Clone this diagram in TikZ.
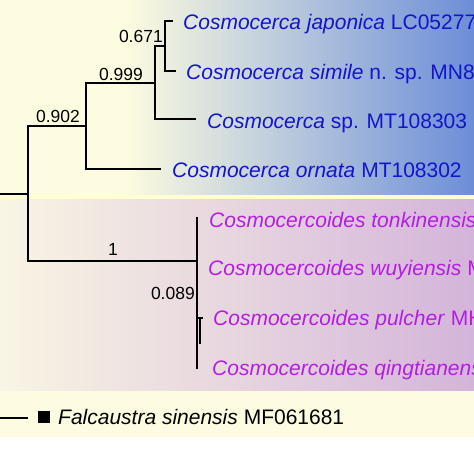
\documentclass[tikz,border=0pt]{standalone}
\usepackage{fontspec}
\setmainfont{Liberation Sans}
\definecolor{bgyellow}{RGB}{253,252,224}
\definecolor{bandyellow}{RGB}{255,255,208}
\definecolor{cladeblue}{RGB}{108,142,216}
\definecolor{pinkleft}{RGB}{249,245,228}
\definecolor{pinkright}{RGB}{212,180,218}
\definecolor{bluetext}{RGB}{20,20,200}
\definecolor{pinktext}{RGB}{180,30,225}
\begin{document}
\begin{tikzpicture}[x=1pt,y=-1pt,
  branch/.style={line width=2pt,line cap=rect},
  taxon/.style={anchor=base west,inner sep=0pt,font=\fontsize{21}{25}\selectfont},
  bluetaxon/.style={taxon,text=bluetext},
  pinktaxon/.style={taxon,text=pinktext},
  support/.style={inner sep=0pt,font=\fontsize{17.5}{20}\selectfont,text=black}]
\useasboundingbox (0,0) rectangle (474,474);
% backgrounds
\fill[white] (0,0) rectangle (474,474);
\fill[bgyellow] (0,0) rectangle (474,437);
\shade[left color=bgyellow,right color=cladeblue] (125,0) rectangle (474,195);
\fill[bandyellow] (0,195) rectangle (474,199);
\shade[left color=pinkleft,right color=pinkright] (0,199) rectangle (474,390);
% tree coordinates
\coordinate (R0) at (0,194);
\coordinate (R) at (28,194);
\coordinate (N902) at (86,126);
\coordinate (N999) at (155,83);
\coordinate (N671) at (165,46);
\coordinate (Ljap) at (172,21);
\coordinate (Lsim) at (175,71);
\coordinate (Lsp) at (195,119);
\coordinate (Lorn) at (160,169);
\coordinate (N1) at (197,261);
\coordinate (Ptop) at (197,218);
\coordinate (Pbot) at (197,368);
\coordinate (Tk) at (197,318);
\coordinate (TkE) at (202,318);
\coordinate (Sv1) at (199.5,318);
\coordinate (Sv2) at (199.5,343);
\coordinate (F0) at (0,418);
\coordinate (F1) at (28,418);
% branches
\draw[branch] (R0) -- (R);
\draw[branch] (R) |- (N902);
\draw[branch] (R) |- (N1);
\draw[branch] (N902) |- (N999);
\draw[branch] (N902) |- (Lorn);
\draw[branch] (N999) |- (N671);
\draw[branch] (N999) |- (Lsp);
\draw[branch] (N671) |- (Ljap);
\draw[branch] (N671) |- (Lsim);
\draw[branch] (Ptop) -- (Pbot);
\draw[branch] (Tk) -- (TkE);
\draw[branch] (Sv1) -- (Sv2);
\draw[line width=2pt] (F0) -- (F1);
% support values
\node[support,anchor=base east] (s671) at (163,42) {0.671};
\node[support,anchor=base] (s999) at (121,80) {0.999};
\node[support,anchor=base] (s902) at (58,122) {0.902};
\node[support,anchor=base] (s1) at (113,255) {1};
\node[support,anchor=base east] (s089) at (195,299) {0.089};
% taxa
\node[bluetaxon] (tjap) at (183,29) {\textit{Cosmocerca japonica} LC05277};
\node[bluetaxon] (tsim) at (186,79) {\textit{Cosmocerca simile} n. sp. MN83};
\node[bluetaxon] (tsp) at (207,128) {\textit{Cosmocerca} sp. MT108303};
\node[bluetaxon] (torn) at (172,177) {\textit{Cosmocerca ornata} MT108302};
\node[pinktaxon] (tton) at (209,227) {\textit{Cosmocercoides tonkinensis}};
\node[pinktaxon] (twuy) at (208,275) {\textit{Cosmocercoides wuyiensis} M};
\node[pinktaxon] (tpul) at (213,325) {\textit{Cosmocercoides pulcher} MH};
\node[pinktaxon] (tqin) at (212,375) {\textit{Cosmocercoides qingtianens}};
\node[fill=black,minimum size=12pt,inner sep=0pt] (fsq) at (43.5,417) {};
\node[taxon,text=black] (tfal) at (58,424) {\textit{Falcaustra sinensis} MF061681};
\end{tikzpicture}
\end{document}
